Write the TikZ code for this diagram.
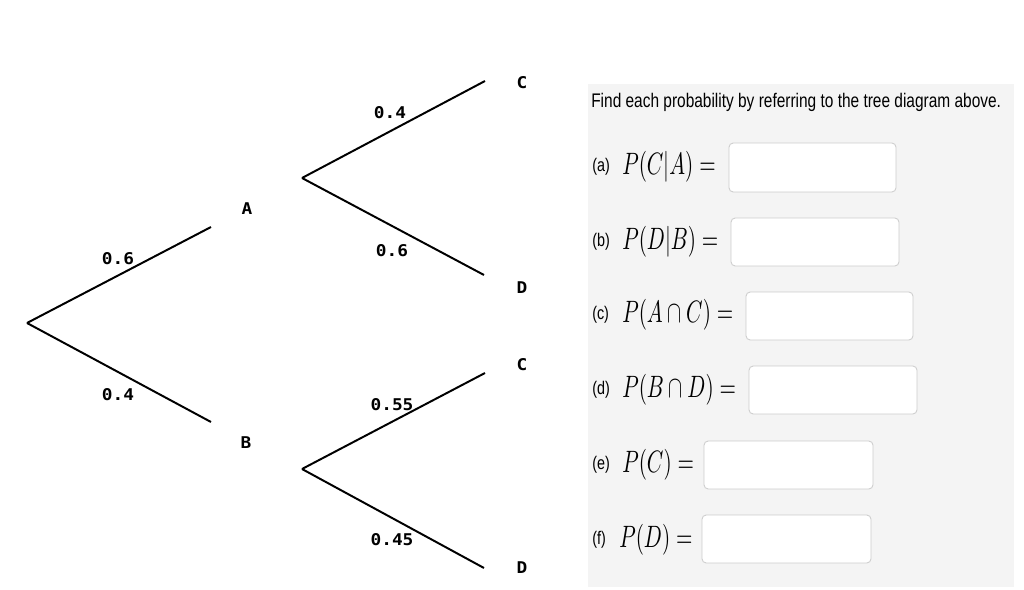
\documentclass[tikz,border=0pt]{standalone}
\usepackage{fontspec}
\newfontfamily\treefont[FakeStretch=1.1]{DejaVu Sans Mono Bold}
\newfontfamily\narrowfont[FakeStretch=0.785]{Liberation Sans}
\definecolor{panel}{HTML}{F4F4F4}
\definecolor{boxline}{HTML}{CCCCCC}
\begin{document}
\begin{tikzpicture}[x=0.025cm,y=-0.025cm,
  branch/.style={line width=1.4pt,black},
  tlab/.style={font=\treefont\fontsize{11.5}{12}\selectfont,inner sep=0pt},
  itemlab/.style={font=\narrowfont\fontsize{13}{14}\selectfont,anchor=west,inner sep=0pt},
  mathlab/.style={anchor=west,inner sep=0pt},
  ansbox/.style={draw=boxline,fill=white,rounded corners=3pt,line width=0.6pt}]
\useasboundingbox (0,0) rectangle (1024,590);
\fill[white] (0,0) rectangle (1024,590);
% tree
\coordinate (r) at (27,323);
\coordinate (ea) at (211,227);
\coordinate (eb) at (211,422);
\coordinate (ra) at (302,178);
\coordinate (rac) at (485,81);
\coordinate (rad) at (484,275);
\coordinate (rb) at (302,469);
\coordinate (rbc) at (485,373);
\coordinate (rbd) at (484,568);
\draw[branch] (r) -- (ea);
\draw[branch] (r) -- (eb);
\draw[branch] (ra) -- (rac);
\draw[branch] (ra) -- (rad);
\draw[branch] (rb) -- (rbc);
\draw[branch] (rb) -- (rbd);
\node[tlab] (A) at (247,209) {A};
\node[tlab] (B) at (246,443) {B};
\node[tlab] (C1) at (522,83) {C};
\node[tlab] (D1) at (522,288) {D};
\node[tlab] (C2) at (522,365) {C};
\node[tlab] (D2) at (522,568) {D};
\node[tlab] (p06) at (118,259) {0.6};
\node[tlab] (p04) at (118,395) {0.4};
\node[tlab] (pac) at (390,113) {0.4};
\node[tlab] (pad) at (392,251) {0.6};
\node[tlab] (pbc) at (392,405) {0.55};
\node[tlab] (pbd) at (392,540) {0.45};
% panel
\fill[panel] (588,84) rectangle (1014,587);
\node[font=\narrowfont\fontsize{14}{16}\selectfont,anchor=west,inner sep=0pt] (title) at (591,102) {Find each probability by referring to the tree diagram above.};
\newcommand{\mymath}[1]{\scalebox{1.5}[2.2]{$#1$}}
% (a)
\node[itemlab] (la) at (592,167) {(a)};
\node[mathlab] (ma) at (622,167) {\mymath{P(C|A)=}};
\draw[ansbox] (729,143) rectangle (896,192);
% (b)
\node[itemlab] (lb) at (592,242) {(b)};
\node[mathlab] (mb) at (622,242) {\mymath{P(D|B)=}};
\draw[ansbox] (731,218) rectangle (899,266);
% (c)
\node[itemlab] (lc) at (592,315) {(c)};
\node[mathlab] (mc) at (622,315) {\mymath{P(A\cap C)=}};
\draw[ansbox] (746,292) rectangle (913,340);
% (d)
\node[itemlab] (ld) at (592,390) {(d)};
\node[mathlab] (md) at (622,390) {\mymath{P(B\cap D)=}};
\draw[ansbox] (749,366) rectangle (917,414);
% (e)
\node[itemlab] (le) at (592,465) {(e)};
\node[mathlab] (me) at (622,465) {\mymath{P(C)=}};
\draw[ansbox] (704,441) rectangle (873,489);
% (f)
\node[itemlab] (lf) at (592,540) {(f)};
\node[mathlab] (mf) at (619,540) {\mymath{P(D)=}};
\draw[ansbox] (702,515) rectangle (871,563);
\end{tikzpicture}
\end{document}
